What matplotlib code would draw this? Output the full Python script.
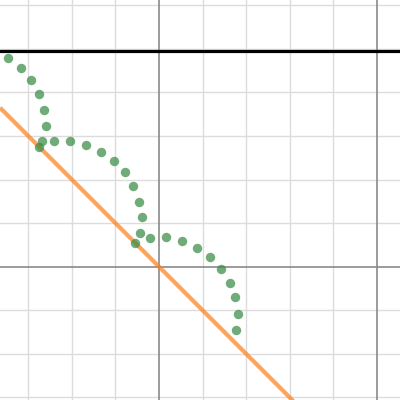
import matplotlib
matplotlib.use("Agg")
import matplotlib.pyplot as plt
import numpy as np

# green points (data units)
pts_x = [-3.467, -3.176, -2.939, -2.755, -2.648, -2.602, -2.680, -2.755, -2.411, -2.044,
         -1.676, -1.339, -1.040, -0.785, -0.590, -0.459, -0.397, -0.443, -0.551, -0.200,
         0.168, 0.528, 0.866, 1.164, 1.424, 1.623, 1.752, 1.807, 1.761]
pts_y = [4.799, 4.563, 4.280, 3.959, 3.605, 3.231, 2.886, 2.749, 2.886, 2.886,
         2.795, 2.641, 2.423, 2.163, 1.846, 1.493, 1.134, 0.774, 0.537, 0.666,
         0.682, 0.597, 0.436, 0.223, -0.046, -0.367, -0.703, -1.079, -1.447]

# orange line y = slope * x
line_slope = -1.0
# black horizontal line
hline_y = 4.95
# extra vertical major line
vline_x = 5.0

xmin, xmax = -3.651, 5.534
ymin, ymax = -3.061, 6.124

fig = plt.figure(figsize=(4, 4), dpi=100)
ax = fig.add_axes([0, 0, 1, 1])
ax.set_xlim(xmin, xmax)
ax.set_ylim(ymin, ymax)
ax.axis("off")

for gx in range(-3, 6):
    if gx in (0, 5):
        continue
    ax.axvline(gx, color="#dcdcdc", lw=1.0, zorder=0)
for gy in range(-3, 7):
    if gy == 0:
        continue
    ax.axhline(gy, color="#dcdcdc", lw=1.0, zorder=0)

ax.axvline(0, color="#8a8a8a", lw=1.2, zorder=1)
ax.axhline(0, color="#8a8a8a", lw=1.2, zorder=1)
ax.axvline(vline_x, color="#8a8a8a", lw=1.2, zorder=1)

ax.axhline(hline_y, color="black", lw=2.3, zorder=2)

xs = np.array([xmin, xmax])
ax.plot(xs, line_slope * xs, color="#fa7e19", alpha=0.7, lw=3.0, zorder=3,
        solid_capstyle="butt")

ax.scatter(pts_x, pts_y, s=46, color="#388c46", alpha=0.72, linewidths=0, zorder=4)

fig.savefig("out.png", dpi=100)
